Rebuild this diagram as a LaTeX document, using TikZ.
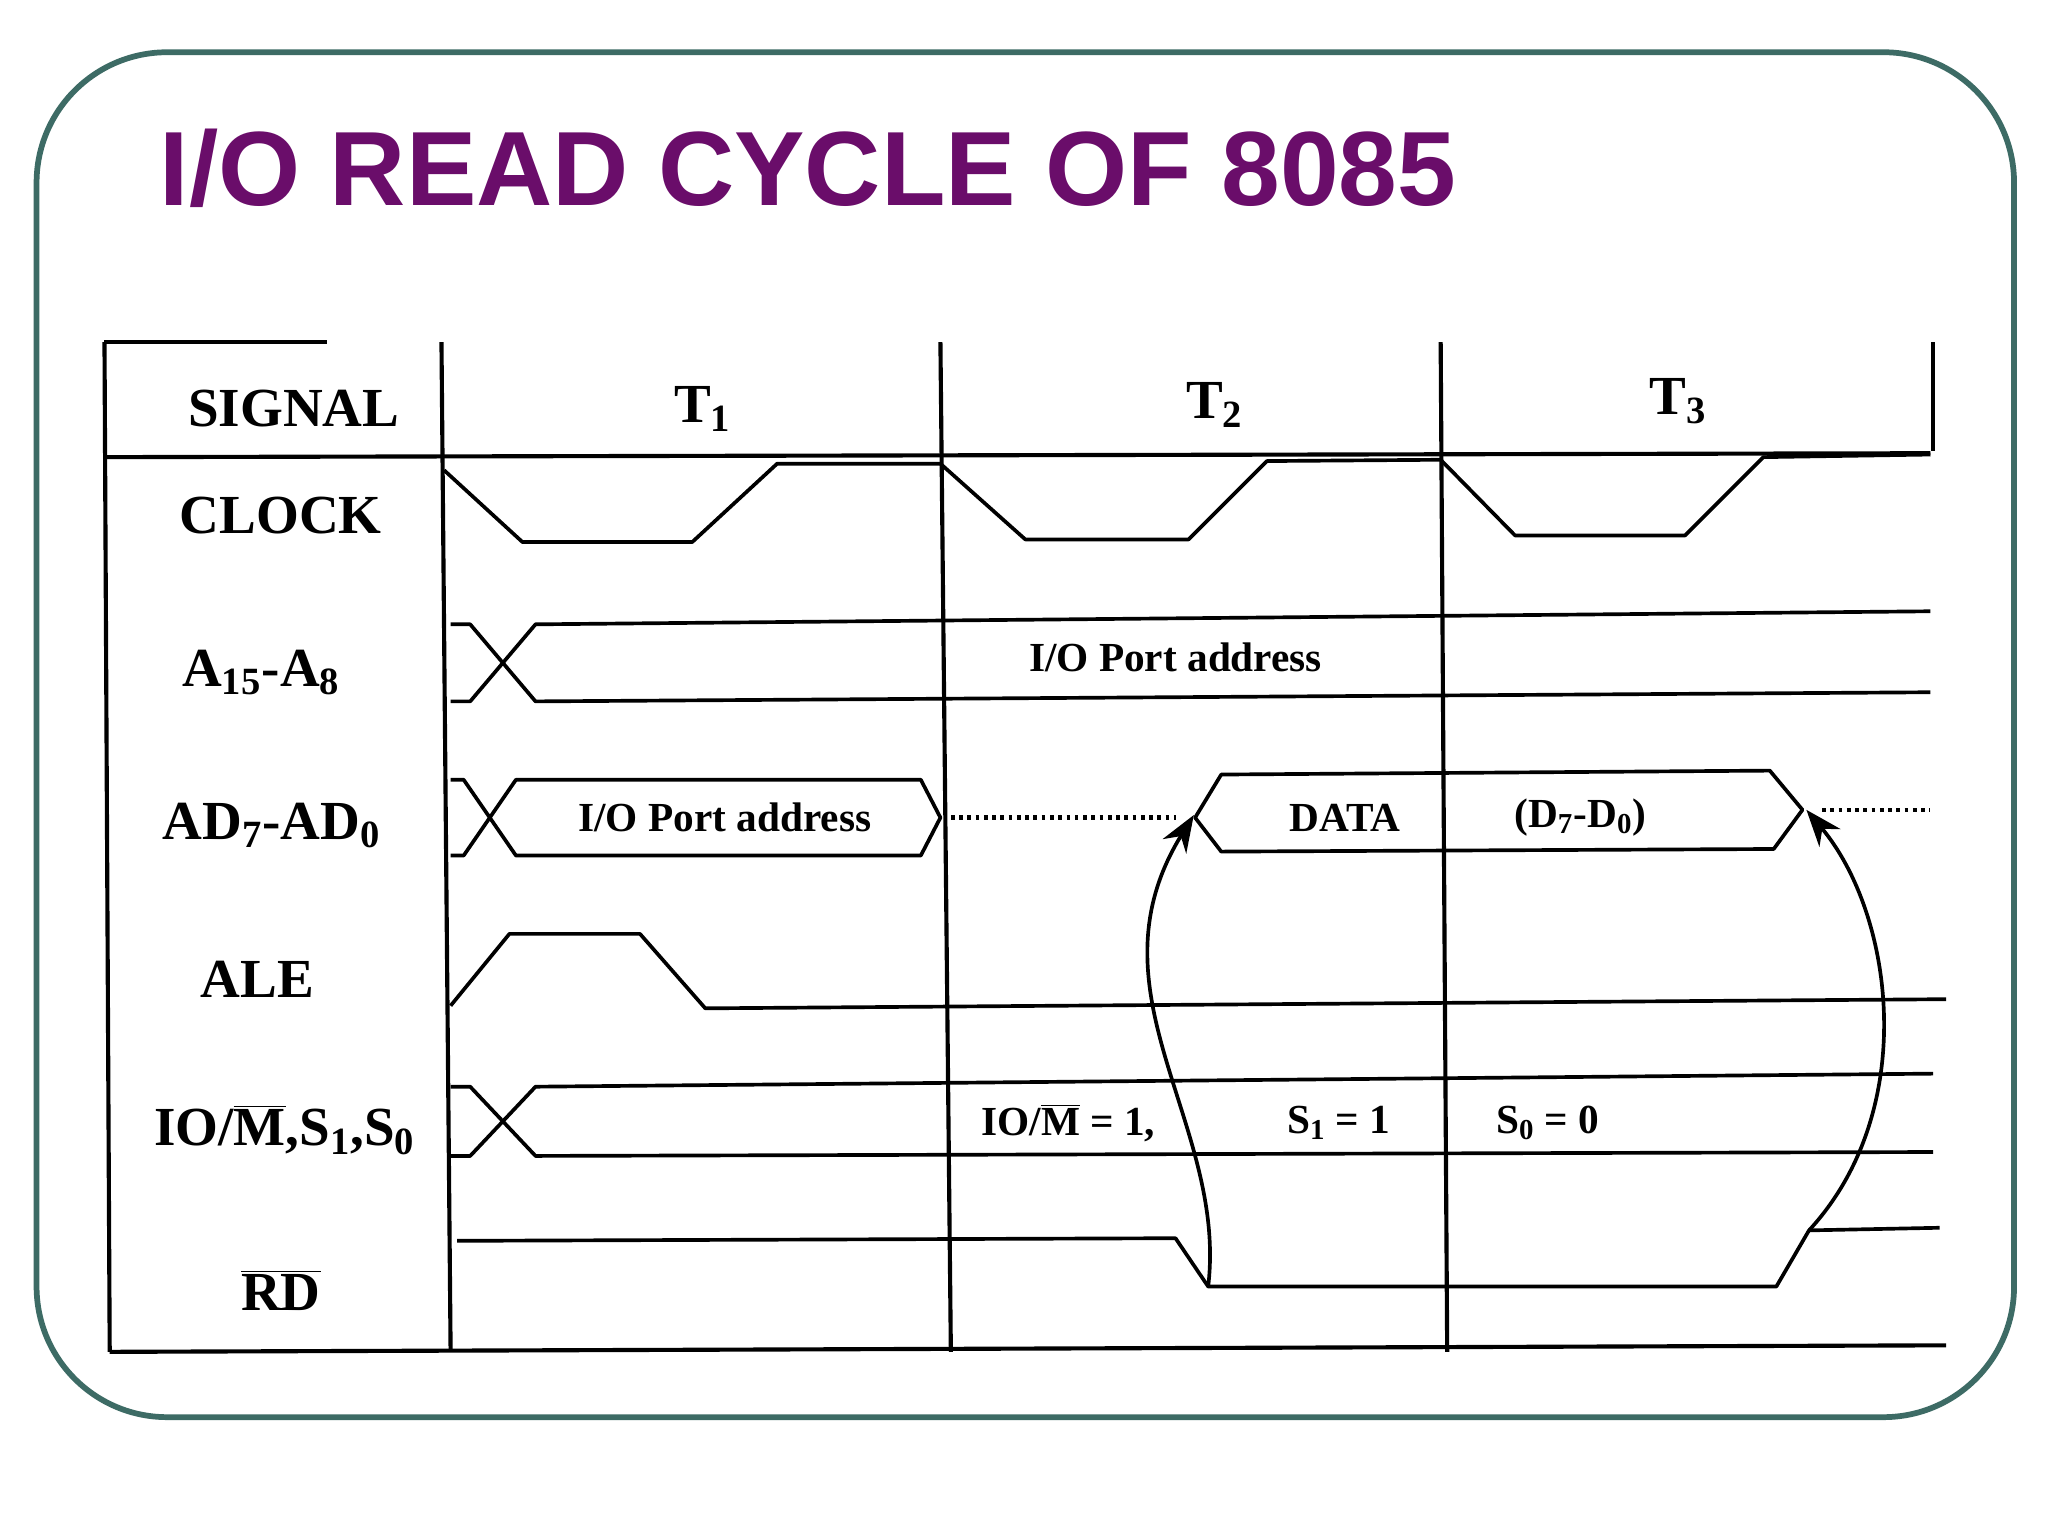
\documentclass[tikz,border=0pt]{standalone}
\usepackage{fontspec}
\setmainfont{Liberation Serif}
\newfontfamily\titlefont{Liberation Sans}
\usetikzlibrary{arrows.meta}
\definecolor{frame}{HTML}{3D6B65}
\definecolor{ttl}{HTML}{6A0D6A}
\begin{document}
\begin{tikzpicture}[x=0.02cm,y=-0.02cm,
  wave/.style={line width=1.6pt,line join=round},
  grid/.style={line width=1.8pt},
  lbl/.style={font=\fontsize{24}{28}\selectfont\bfseries},
  inl/.style={font=\fontsize{18}{22}\selectfont\bfseries},
  arr/.style={line width=1.6pt,-{Stealth[length=16pt,width=12pt]}}]
\useasboundingbox (0,0) rectangle (1568,1176);
\fill[white] (0,0) rectangle (1568,1176);
\draw[frame,line width=2.5pt,rounded corners=2cm] (28,40) rectangle (1542,1085);
\node[anchor=base west,inner sep=0,text=ttl,font=\titlefont\fontsize{46}{52}\selectfont\bfseries] (title) at (122,157) {I/O READ CYCLE OF 8085};
% grid
\draw[grid] (80,262) -- (84,1035);
\draw[grid] (80,262) -- (250,262);
\draw[grid] (338,262) -- (345,1035);
\draw[grid] (720,262) -- (728,1035);
\draw[grid] (1103,262) -- (1108,1035);
\draw[grid] (1480,262) -- (1480,345);
\draw[grid] (80,350) -- (1478,347);
\draw[grid] (84,1035) -- (1490,1030);
% header
\node[lbl] (sig) at (225,313) {SIGNAL};
\node[lbl] (t1) at (538,313) {T\textsubscript{1}};
\node[lbl] (t2) at (930,310) {T\textsubscript{2}};
\node[lbl] (t3) at (1285,307) {T\textsubscript{3}};
\node[lbl] (clk) at (215,395) {CLOCK};
\node[lbl] (ahi) at (200,515) {A\textsubscript{15}-A\textsubscript{8}};
\node[lbl] (ad) at (208,632) {AD\textsubscript{7}-AD\textsubscript{0}};
\node[lbl] (ale) at (197,750) {ALE};
\node[lbl] (iom) at (218,865) {IO/$\overline{\mbox{M}}$,S\textsubscript{1},S\textsubscript{0}};
\node[lbl] (rd) at (215,988) {$\overline{\mbox{RD}}$};
% clock
\draw[wave] (340,360) -- (400,415) -- (530,415) -- (595,355) -- (720,355)
  -- (785,413) -- (910,413) -- (970,353) -- (1103,352)
  -- (1160,410) -- (1290,410) -- (1350,350) -- (1478,348);
% A15-A8
\draw[wave] (345,478) -- (360,478) -- (410,537) -- (1478,530);
\draw[wave] (345,537) -- (360,537) -- (410,478) -- (1478,468);
\node[inl] (pa1) at (900,503) {I/O Port address};
% AD7-AD0
\draw[wave] (345,597) -- (355,597) -- (395,655) -- (705,655) -- (720,626) -- (705,597) -- (395,597) -- (355,655) -- (345,655);
\node[inl] (pa2) at (555,626) {I/O Port address};
\draw[wave,dotted,line width=2pt] (728,626) -- (900,626);
\draw[wave] (915,626) -- (935,593) -- (1355,590) -- (1380,620) -- (1358,650) -- (935,652) -- cycle;
\node[inl] (data) at (1030,626) {DATA};
\node[inl] (dd) at (1210,626) {(D\textsubscript{7}-D\textsubscript{0})};
\draw[wave,dotted,line width=2pt] (1395,620) -- (1478,620);
% ALE
\draw[wave] (345,770) -- (390,715) -- (490,715) -- (540,772) -- (1490,765);
% IO/M
\draw[wave] (345,885) -- (360,885) -- (410,832) -- (1480,822);
\draw[wave] (345,832) -- (360,832) -- (410,885) -- (1480,882);
\node[inl] (e1) at (818,860) {IO/$\overline{\mbox{M}}$ = 1,};
\node[inl] (e2) at (1025,860) {S\textsubscript{1} = 1};
\node[inl] (e3) at (1185,860) {S\textsubscript{0} = 0};
% RD
\draw[wave] (350,950) -- (900,948) -- (925,985) -- (1360,985) -- (1385,942) -- (1485,940);
% arrows
\coordinate (r1) at (925,985);
\coordinate (d1) at (914,624);
\coordinate (r2) at (1385,942);
\coordinate (d2) at (1383,620);
\draw[arr] (r1) .. controls (940,860) and (830,760) .. (d1);
\draw[arr] (r2) .. controls (1470,850) and (1450,700) .. (d2);
\end{tikzpicture}
\end{document}
